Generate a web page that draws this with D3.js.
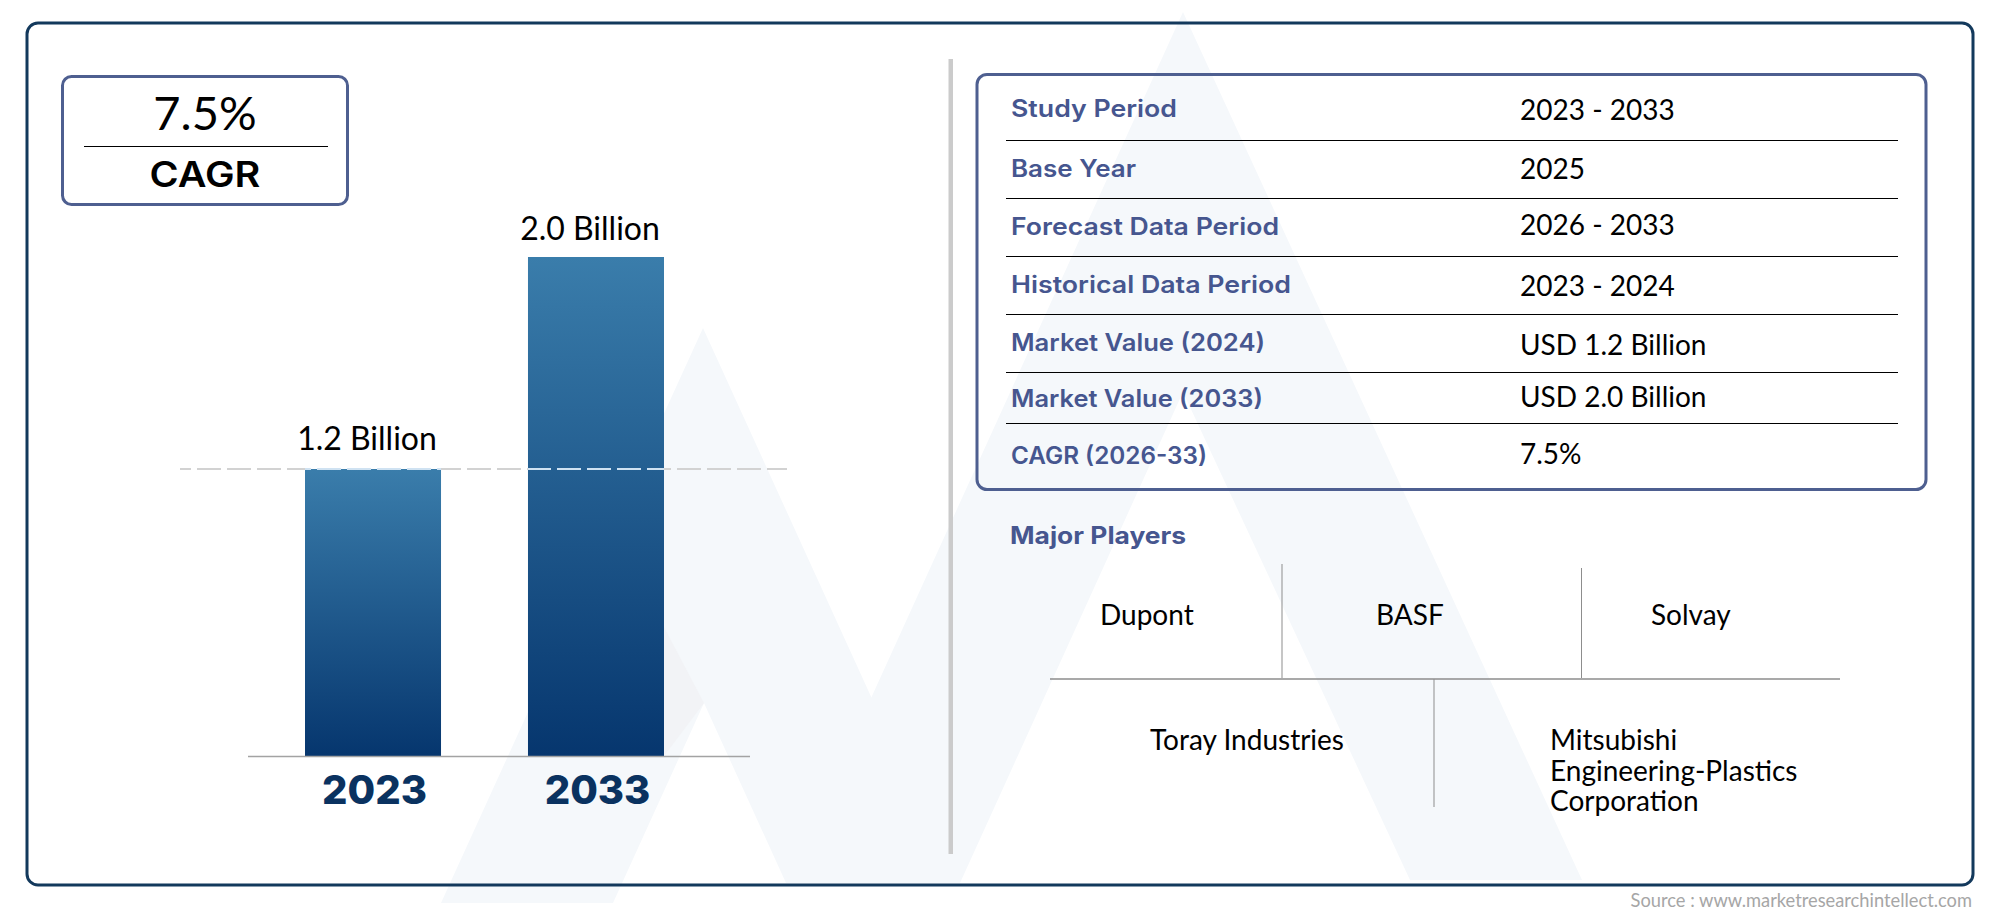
<!DOCTYPE html>
<html>
<head>
<meta charset="utf-8">
<title>CAGR chart</title>
<script src="https://d3js.org/d3.v7.min.js"></script>
<style>
  html, body { margin: 0; padding: 0; background: #fff; }
  svg { display: block; }
  .thin { font-family: Lato, sans-serif; font-weight: 400; fill: #000; }
  .heavy { font-family: Inter, sans-serif; font-weight: 600; fill: #46568f; }
</style>
</head>
<body>
<div id="chart"></div>
<script>
// chart data
var years = ["2023", "2033"];
var marketValues = [1.2, 2.0];
var valueLabels = ["1.2 Billion", "2.0 Billion"];

var cagrValue = "7.5%";
var cagrLabel = "CAGR";

var tableLabels = ["Study Period", "Base Year", "Forecast Data Period", "Historical Data Period",
  "Market Value (2024)", "Market Value (2033)", "CAGR (2026-33)"];
var tableValues = ["2023 - 2033", "2025", "2026 - 2033", "2023 - 2024",
  "USD 1.2 Billion", "USD 2.0 Billion", "7.5%"];

var playersTitle = "Major Players";
var playersTop = ["Dupont", "BASF", "Solvay"];
var playersBottom = ["Toray Industries", "Mitsubishi\nEngineering-Plastics\nCorporation"];

var sourceText = "Source : www.marketresearchintellect.com";

var svgWidth = 2000;
var svgHeight = 917;
var baseY = 756;
var topY = 257;
var labelBaselines = [117, 177, 235, 293, 351, 407, 464];
var labelWidths = [166, 125, 268, 280, 254, 252, 196];
var valueBaselines = [120, 179, 235, 296, 355, 407, 464];
var ruleYs = [140, 198, 256, 314, 372, 423];
var topPlayerX = [1100, 1376, 1651];
var bottomPlayerX = [1150, 1550];
var valueLabelGap = [19, 17];

var boxColor = "#4e5f90";
var frameColor = "#13395c";

// Inter is narrower than the wide face in the reference, so stretch it a bit
function widen(selection, factor) {
  selection.each(function() {
    d3.select(this)
      .attr("lengthAdjust", "spacingAndGlyphs")
      .attr("textLength", this.getComputedTextLength() * factor);
  });
}

var svg = d3.select("#chart")
  .append("svg")
  .attr("width", svgWidth)
  .attr("height", svgHeight);

var defs = svg.append("defs");

var barGradient = defs.append("linearGradient")
  .attr("id", "barGradient")
  .attr("x1", 0).attr("y1", 0)
  .attr("x2", 0).attr("y2", 1);
barGradient.append("stop").attr("offset", "0%").attr("stop-color", "#3a7dab");
barGradient.append("stop").attr("offset", "100%").attr("stop-color", "#06366e");

// faint logo behind everything
var logoShapes = [
  [[703, 328], [441, 903], [613, 903], [704, 703], [786, 883], [956, 883]],
  [[1183, 12], [787, 883], [960, 883], [1183, 392], [1410, 880], [1582, 880]],
  [[664, 627], [704, 703], [664, 756]]
];
var logoFills = ["#f5f8fb", "#f5f8fb", "#f2f3f6"];

svg.append("g")
  .selectAll("path")
  .data(logoShapes)
  .enter()
  .append("path")
  .attr("d", d => d3.line()(d) + "Z")
  .attr("fill", (d, i) => logoFills[i]);

// outer frame
svg.append("rect")
  .attr("x", 27).attr("y", 23)
  .attr("width", 1946).attr("height", 862)
  .attr("rx", 11)
  .attr("fill", "none")
  .attr("stroke", frameColor)
  .attr("stroke-width", 3);

// divider between the two halves
svg.append("rect")
  .attr("x", 948.5).attr("y", 59)
  .attr("width", 4.5).attr("height", 795)
  .attr("fill", "#cbcbcb");

// CAGR box
svg.append("rect")
  .attr("x", 62.5).attr("y", 76.5)
  .attr("width", 285).attr("height", 128)
  .attr("rx", 9)
  .attr("fill", "none")
  .attr("stroke", boxColor)
  .attr("stroke-width", 3);

svg.append("line")
  .attr("x1", 84).attr("x2", 328)
  .attr("y1", 146.5).attr("y2", 146.5)
  .attr("stroke", "#000")
  .attr("stroke-width", 1);

svg.append("text")
  .attr("class", "thin")
  .attr("x", 205).attr("y", 130)
  .attr("text-anchor", "middle")
  .style("font-size", "47px")
  .text(cagrValue);

svg.append("text")
  .attr("class", "heavy")
  .attr("x", 205).attr("y", 187)
  .attr("text-anchor", "middle")
  .style("font-size", "35px")
  .style("fill", "#000")
  .text(cagrLabel)
  .call(widen, 1.13);

// bars
var xScale = d3.scaleBand()
  .domain(years)
  .range([305, 664])
  .paddingInner(0.39)
  .paddingOuter(0);

// the drawn bars do not start from zero, the lower bound is read off their heights
var yScale = d3.scaleLinear()
  .domain([0.117, d3.max(marketValues)])
  .range([baseY, topY]);

svg.append("g")
  .selectAll("rect")
  .data(marketValues)
  .enter()
  .append("rect")
  .attr("x", (d, i) => xScale(years[i]))
  .attr("y", d => yScale(d))
  .attr("width", xScale.bandwidth())
  .attr("height", d => baseY - yScale(d))
  .attr("fill", "url(#barGradient)");

svg.append("g")
  .selectAll("text")
  .data(marketValues)
  .enter()
  .append("text")
  .attr("class", "thin")
  .attr("x", (d, i) => xScale(years[i]) + xScale.bandwidth() / 2 - 6)
  .attr("y", (d, i) => yScale(d) - valueLabelGap[i])
  .attr("text-anchor", "middle")
  .style("font-size", "32px")
  .text((d, i) => valueLabels[i]);

// dashed guide at the height of the first bar, lighter where it runs over a bar
var guideY = yScale(marketValues[0]);

svg.append("line")
  .attr("x1", 180).attr("x2", 787)
  .attr("y1", guideY).attr("y2", guideY)
  .attr("stroke", "#d2d2d2")
  .attr("stroke-width", 2)
  .attr("stroke-dasharray", "24 6")
  .attr("stroke-dashoffset", 13);

defs.append("clipPath")
  .attr("id", "overBar")
  .selectAll("rect")
  .data(years)
  .enter()
  .append("rect")
  .attr("x", d => xScale(d))
  .attr("y", guideY - 3)
  .attr("width", xScale.bandwidth())
  .attr("height", 6);

svg.append("line")
  .attr("x1", 180).attr("x2", 787)
  .attr("y1", guideY).attr("y2", guideY)
  .attr("clip-path", "url(#overBar)")
  .attr("stroke", "#cfe2f2")
  .attr("stroke-width", 2)
  .attr("stroke-dasharray", "24 6")
  .attr("stroke-dashoffset", 13);

// baseline and year labels
svg.append("line")
  .attr("x1", 248).attr("x2", 750)
  .attr("y1", baseY + 0.5).attr("y2", baseY + 0.5)
  .attr("stroke", "#a3a3a3")
  .attr("stroke-width", 1.5);

var xAxis = d3.axisBottom(xScale).tickSize(0);

var xAxisGroup = svg.append("g")
  .attr("transform", `translate(0, ${baseY})`)
  .call(xAxis);

xAxisGroup.select(".domain").remove();
xAxisGroup.selectAll("text")
  .attr("x", 1.5)
  .attr("y", 48)
  .attr("dy", 0)
  .style("font-family", "Inter, sans-serif")
  .style("font-weight", 800)
  .style("font-size", "40px")
  .style("fill", "#0a3260");

// study table
svg.append("rect")
  .attr("x", 977).attr("y", 74.5)
  .attr("width", 949).attr("height", 415)
  .attr("rx", 10)
  .attr("fill", "none")
  .attr("stroke", boxColor)
  .attr("stroke-width", 3);

svg.append("g")
  .selectAll("line")
  .data(ruleYs)
  .enter()
  .append("line")
  .attr("x1", 1006).attr("x2", 1898)
  .attr("y1", d => d + 0.5).attr("y2", d => d + 0.5)
  .attr("stroke", "#000")
  .attr("stroke-width", 1);

svg.append("g")
  .selectAll("text")
  .data(tableLabels)
  .enter()
  .append("text")
  .attr("class", "heavy")
  .attr("x", 1011)
  .attr("y", (d, i) => labelBaselines[i])
  .attr("lengthAdjust", "spacingAndGlyphs")
  .attr("textLength", (d, i) => labelWidths[i])
  .style("font-size", "24px")
  .text(d => d);

svg.append("g")
  .selectAll("text")
  .data(tableValues)
  .enter()
  .append("text")
  .attr("class", "thin")
  .attr("x", 1520)
  .attr("y", (d, i) => valueBaselines[i])
  .style("font-size", "28px")
  .text(d => d);

// major players
svg.append("text")
  .attr("class", "heavy")
  .attr("x", 1010).attr("y", 544)
  .style("font-size", "24px")
  .style("font-weight", 700)
  .text(playersTitle)
  .call(widen, 1.1);

var playerRules = [
  [1050, 679, 1840, 679, 1.5],
  [1282, 564, 1282, 678, 1],
  [1581.5, 568, 1581.5, 678, 1],
  [1434, 679, 1434, 807, 1]
];

svg.append("g")
  .selectAll("line")
  .data(playerRules)
  .enter()
  .append("line")
  .attr("x1", d => d[0]).attr("y1", d => d[1])
  .attr("x2", d => d[2]).attr("y2", d => d[3])
  .attr("stroke", "#8d8d8d")
  .attr("stroke-width", d => d[4]);

svg.append("g")
  .selectAll("text")
  .data(playersTop)
  .enter()
  .append("text")
  .attr("class", "thin")
  .attr("x", (d, i) => topPlayerX[i])
  .attr("y", 625)
  .style("font-size", "28px")
  .text(d => d);

var bottomText = svg.append("g")
  .selectAll("text")
  .data(playersBottom)
  .enter()
  .append("text")
  .attr("class", "thin")
  .attr("y", 750)
  .style("font-size", "28px");

bottomText.selectAll("tspan")
  .data((d, i) => d.split("\n").map(line => ({ line: line, x: bottomPlayerX[i] })))
  .enter()
  .append("tspan")
  .attr("x", d => d.x)
  .attr("dy", (d, i) => i === 0 ? 0 : 30.5)
  .text(d => d.line);

// source line
svg.append("text")
  .attr("x", 1972).attr("y", 907)
  .attr("text-anchor", "end")
  .style("font-family", "Lato, sans-serif")
  .style("font-size", "18.3px")
  .style("fill", "#a6a6a6")
  .text(sourceText);
</script>
</body>
</html>
